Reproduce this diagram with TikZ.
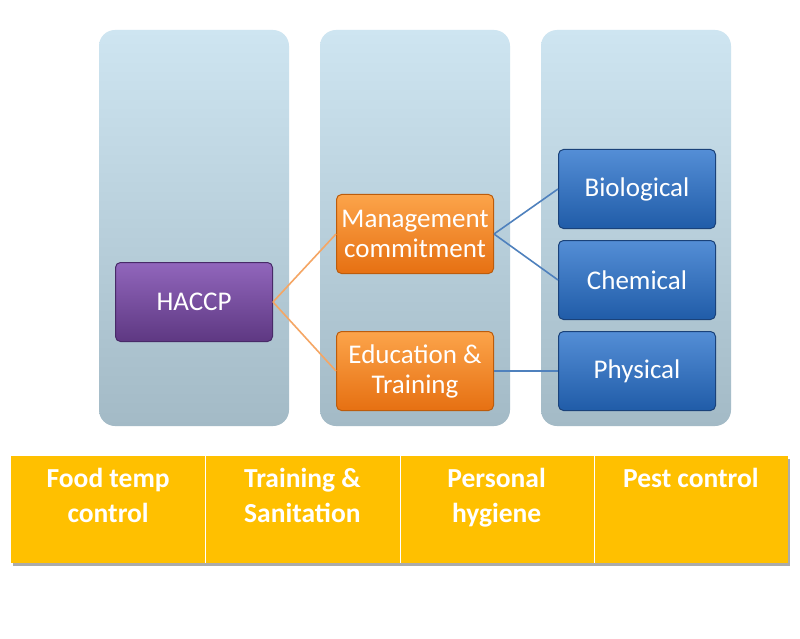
\documentclass[tikz,border=0pt]{standalone}
\usepackage{fontspec}
\setmainfont{Carlito}
\usetikzlibrary{shadows}
\definecolor{colTop}{RGB}{206,229,241}
\definecolor{colBot}{RGB}{163,186,198}
\definecolor{purTop}{RGB}{145,102,188}
\definecolor{purBot}{RGB}{94,56,130}
\definecolor{purEdge}{RGB}{72,42,104}
\definecolor{orTop}{RGB}{252,164,74}
\definecolor{orBot}{RGB}{230,112,18}
\definecolor{orEdge}{RGB}{188,92,12}
\definecolor{blTop}{RGB}{84,142,214}
\definecolor{blBot}{RGB}{32,92,168}
\definecolor{blEdge}{RGB}{26,66,122}
\definecolor{orLine}{RGB}{245,166,100}
\definecolor{blLine}{RGB}{79,129,189}
\definecolor{tabFill}{RGB}{255,192,0}
\begin{document}
\begin{tikzpicture}[x=1pt,y=-1pt,
  column/.style={rounded corners=16pt, top color=colTop, bottom color=colBot, draw=none,
    minimum width=190pt, minimum height=396pt, inner sep=0pt},
  box/.style={rounded corners=5pt, minimum width=157pt, minimum height=79pt, inner sep=0pt,
    align=center, text=white, font=\fontsize{27}{30}\selectfont, line width=1pt},
  purplebox/.style={box, top color=purTop, bottom color=purBot, draw=purEdge},
  orangebox/.style={box, top color=orTop, bottom color=orBot, draw=orEdge},
  bluebox/.style={box, top color=blTop, bottom color=blBot, draw=blEdge},
  orline/.style={draw=orLine, line width=1.6pt},
  blline/.style={draw=blLine, line width=1.6pt},
  cell/.style={fill=tabFill, draw=white, line width=0.8pt, minimum width=194.25pt,
    minimum height=107pt, inner sep=0pt},
  celltext/.style={anchor=north, inner sep=0pt, align=center, text=white,
    font=\bfseries\fontsize{27.5}{35}\selectfont},
]
\useasboundingbox (0,0) rectangle (800,639);
\fill[white] (0,0) rectangle (800,639);

% background columns
\node[column] (c1) at (194,228) {};
\node[column] (c2) at (415,228) {};
\node[column] (c3) at (636,228) {};

% boxes
\node[purplebox] (haccp) at (194,302) {HACCP};
\node[orangebox] (mgmt) at (415,234) {Management\\commitment};
\node[orangebox] (edu) at (415,371) {Education \&\\Training};
\node[bluebox] (bio) at (637,189) {Biological};
\node[bluebox] (chem) at (637,280) {Chemical};
\node[bluebox] (phys) at (637,371) {Physical};

% connectors
\draw[orline] (haccp.east) -- (mgmt.west);
\draw[orline] (haccp.east) -- (edu.west);
\draw[blline] (mgmt.east) -- (bio.west);
\draw[blline] (mgmt.east) -- (chem.west);
\draw[blline] (edu.east) -- (phys.west);

% table
\node[minimum width=777pt, minimum height=107pt, inner sep=0pt, fill=tabFill,
  drop shadow={shadow xshift=1.5pt, shadow yshift=-2.5pt, fill=black!55, opacity=0.6}]
  (tab) at (399.5,509.5) {};
\node[cell, draw=none] (t1) at (108.125,509.5) {};
\node[cell, draw=none] (t2) at (302.375,509.5) {};
\node[cell, draw=none] (t3) at (496.625,509.5) {};
\node[cell, draw=none] (t4) at (690.875,509.5) {};
\draw[white, line width=0.8pt] (t1.north east) -- (t1.south east);
\draw[white, line width=0.8pt] (t2.north east) -- (t2.south east);
\draw[white, line width=0.8pt] (t3.north east) -- (t3.south east);
\node[celltext] (l1) at ([yshift=-12pt]t1.north) {Food temp\\control};
\node[celltext] (l2) at ([yshift=-12pt]t2.north) {Training \&\\Sanitation};
\node[celltext] (l3) at ([yshift=-12pt]t3.north) {Personal\\hygiene};
\node[celltext] (l4) at ([yshift=-12pt]t4.north) {Pest control};
\end{tikzpicture}
\end{document}
